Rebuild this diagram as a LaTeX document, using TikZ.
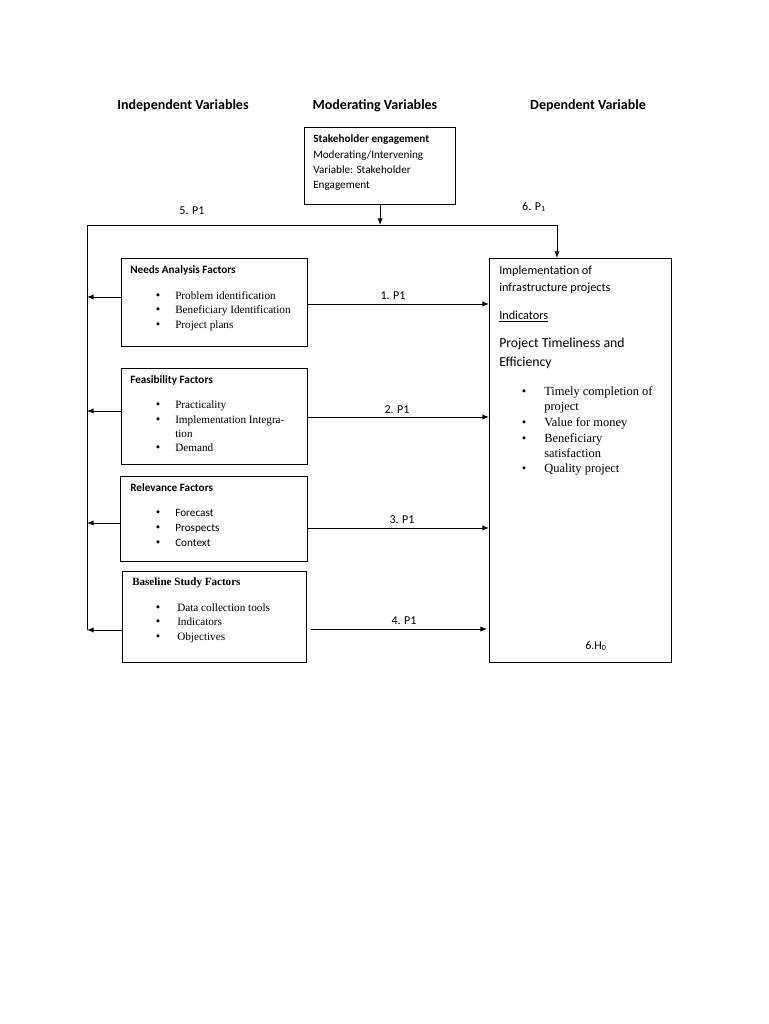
\documentclass[tikz,border=0pt]{standalone}
\usepackage{fontspec}
\setmainfont{Liberation Serif}
\newfontfamily\calib{Carlito}
\usetikzlibrary{arrows.meta}
\begin{document}
\begin{tikzpicture}[x=0.75pt,y=-0.75pt,
  box/.style={draw, line width=0.85pt, inner sep=0pt, anchor=north west},
  ln/.style={line width=0.75pt},
  arr/.style={line width=0.75pt, -{Latex[length=5pt,width=4pt]}},
  hd/.style={font=\calib\bfseries\fontsize{10.5}{12}\selectfont, inner sep=0pt},
  st/.style={font=\calib\fontsize{8.4}{10}\selectfont, inner sep=0pt, anchor=base west},
  stb/.style={font=\calib\bfseries\fontsize{8.4}{10}\selectfont, inner sep=0pt, anchor=base west},
  sr/.style={font=\fontsize{8.4}{10}\selectfont, inner sep=0pt, anchor=base west},
  srb/.style={font=\bfseries\fontsize{8.3}{10}\selectfont, inner sep=0pt, anchor=base west},
  sr9/.style={font=\fontsize{9.35}{11}\selectfont, inner sep=0pt, anchor=base west},
  st9/.style={font=\calib\fontsize{10.3}{12}\selectfont, inner sep=0pt, anchor=base west},
  st85/.style={font=\calib\fontsize{9.2}{11}\selectfont, inner sep=0pt, anchor=base west},
  lab/.style={font=\calib\fontsize{9}{11}\selectfont, inner sep=0pt},
  bul/.style={font=\fontsize{9.5}{11}\selectfont, inner sep=0pt, anchor=base},
]
\useasboundingbox[fill=white] (0,0) rectangle (768,1024);

% headings
\node[hd] (h1) at (183,106) {Independent Variables};
\node[hd] (h2) at (375,106) {Moderating Variables};
\node[hd] (h3) at (588,106) {Dependent Variable};

% boxes
\node[box, minimum width=113.25pt, minimum height=57.75pt] (stake) at (304,127) {};
\node[box, minimum width=139.5pt, minimum height=66pt] (needs) at (121,258) {};
\node[box, minimum width=139.5pt, minimum height=72pt] (feas) at (121,368) {};
\node[box, minimum width=140.25pt, minimum height=63.75pt] (relev) at (120,476) {};
\node[box, minimum width=138pt, minimum height=68.25pt] (base) at (122,571) {};
\node[box, minimum width=136.5pt, minimum height=303pt] (impl) at (489,258) {};

% stakeholder text
\node[stb] (s1) at (313,142.5) {Stakeholder engagement};
\node[st] (s2) at (313,158.5) {Moderating/Intervening};
\node[st] (s3) at (313,173.5) {Variable: Stakeholder};
\node[st] (s4) at (313,188.5) {Engagement};

% needs
\node[stb] (n0) at (130,273.5) {Needs Analysis Factors};
\node[bul] (nb1) at (158,299.5) {•};
\node[bul] (nb2) at (158,313.5) {•};
\node[bul] (nb3) at (158,328.5) {•};
\node[sr] (n1) at (175,299.5) {Problem identification};
\node[sr] (n2) at (175,313.5) {Beneficiary Identification};
\node[sr] (n3) at (175,328.5) {Project plans};

% feasibility
\node[stb] (f0) at (130,383.5) {Feasibility Factors};
\node[bul] (fb1) at (158,408.5) {•};
\node[bul] (fb2) at (158,423.5) {•};
\node[bul] (fb3) at (158,451.5) {•};
\node[sr] (f1) at (175,408.5) {Practicality};
\node[sr] (f2) at (175,423.5) {Implementation Integra-};
\node[sr] (f2b) at (175,437.5) {tion};
\node[sr] (f3) at (175,451.5) {Demand};

% relevance
\node[stb] (r0) at (130,491.5) {Relevance Factors};
\node[bul] (rb1) at (158,516.5) {•};
\node[bul] (rb2) at (158,531.5) {•};
\node[bul] (rb3) at (158,546.5) {•};
\node[st] (r1) at (175,516.5) {Forecast};
\node[st] (r2) at (175,531.5) {Prospects};
\node[st] (r3) at (175,546.5) {Context};

% baseline
\node[srb] (b0) at (132,585.5) {Baseline Study Factors};
\node[bul] (bb1) at (158,611.5) {•};
\node[bul] (bb2) at (158,625.5) {•};
\node[bul] (bb3) at (158,640.5) {•};
\node[sr] (b1) at (177,611.5) {Data collection tools};
\node[sr] (b2) at (177,625.5) {Indicators};
\node[sr] (b3) at (177,640.5) {Objectives};

% implementation
\node[st85] (i1) at (499,274) {Implementation of};
\node[st85] (i2) at (499,291) {infrastructure projects};
\node[st85] (i3) at (499,319) {\underline{Indicators}};
\node[st9] (i4) at (499,347.5) {Project Timeliness and};
\node[st9] (i5) at (499,366.5) {Efficiency};
\node[bul] (ib1) at (524,395) {•};
\node[bul] (ib2) at (524,426) {•};
\node[bul] (ib3) at (524,442) {•};
\node[bul] (ib4) at (524,472) {•};
\node[sr9] (i6) at (544,395) {Timely completion of};
\node[sr9] (i7) at (544,410) {project};
\node[sr9] (i8) at (544,426) {Value for money};
\node[sr9] (i9) at (544,442) {Beneficiary};
\node[sr9] (i10) at (544,457) {satisfaction};
\node[sr9] (i11) at (544,472) {Quality project};
\node[lab] (h0) at (596,646) {6.H\textsubscript{0}};

% labels
\node[lab] (p5) at (192,211) {5. P1};
\node[lab] (p6) at (534,207) {6. P\textsubscript{1}};
\node[lab] (p1) at (393,296) {1. P1};
\node[lab] (p2) at (397,410) {2. P1};
\node[lab] (p3) at (402,520) {3. P1};
\node[lab] (p4) at (404,621) {4. P1};

% frame coordinates
\coordinate (TL) at (87,225);
\coordinate (TR) at (557,225);
\coordinate (BL) at (87,630);
\coordinate (l1) at (87,297);
\coordinate (l2) at (87,411);
\coordinate (l3) at (87,523);
\coordinate (l4) at (87,630);
\coordinate (r1) at (489,304);
\coordinate (r2) at (489,417);
\coordinate (r3) at (489,528);
\coordinate (r4) at (487,629);

% connectors
\draw[arr] (stake.south) -- (stake.south |- TL);
\draw[ln] (BL) -- (TL) -- (TR);
\draw[arr] (TR) -- (impl.north -| TR);
\draw[arr] (needs.west |- l1) -- (l1);
\draw[arr] (feas.west |- l2) -- (l2);
\draw[arr] (relev.west |- l3) -- (l3);
\draw[arr] (base.west |- l4) -- (l4);
\draw[arr] (needs.east |- r1) -- (impl.west |- r1);
\draw[arr] (feas.east |- r2) -- (impl.west |- r2);
\draw[arr] (relev.east |- r3) -- (impl.west |- r3);
\draw[arr, shorten <=3pt, shorten >=1.5pt] (base.east |- r4) -- (impl.west |- r4);
\end{tikzpicture}
\end{document}
